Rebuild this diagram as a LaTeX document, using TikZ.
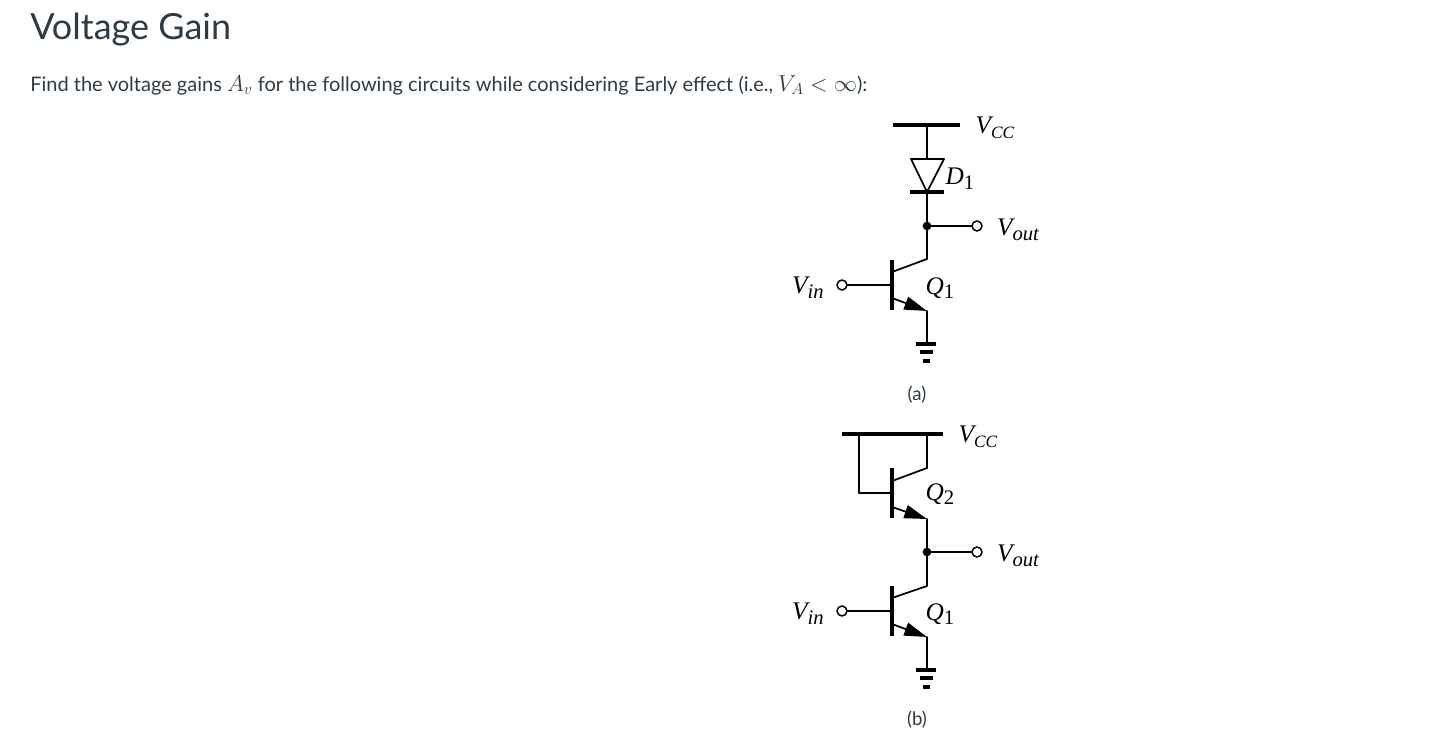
\documentclass[tikz,border=0pt]{standalone}
\usepackage{amsmath}
\usepackage{fontspec}
\setmainfont{Lato}
\newfontfamily\labelfont{Liberation Serif}
\usetikzlibrary{arrows.meta}
\definecolor{textGray}{HTML}{2D3B45}
\newcommand{\bigmath}[1]{{\fontsize{18.5}{20}\selectfont$#1$}}
\newcommand{\circuitlabel}[2]{#1\raisebox{-3.5pt}{\fontsize{15.5}{17}\selectfont #2}}
\newcommand{\railname}{{\fontsize{13}{15}\selectfont CC}}

\begin{document}
\begin{tikzpicture}
[x=0.75pt,y=-0.75pt,
  pinDecorate/.style={shape=circle,inner sep=0pt,minimum size=7.5pt,draw,line width=1.1pt,fill=white},%
  dotDecorate/.style={shape=circle,inner sep=0pt,minimum size=6.5pt,fill=black},%
  lineDecorate/.style={-,line width=1.3pt,line cap=round},%
  barDecorate/.style={-,line width=2.6pt},%
  emitterDecorate/.style={-{Triangle[length=17pt,width=10pt]},line width=1.3pt},%
  partLabel/.style={font=\labelfont\itshape\fontsize{19}{22}\selectfont,inner sep=0pt},%
  capLabel/.style={font=\fontsize{14}{17}\selectfont,text=textGray,inner sep=0pt}]
\useasboundingbox (0,0) rectangle (1436,745);
%% heading and question
\node (title) at (30,30) [anchor=west,inner sep=0pt,text=textGray,font=\fontsize{27}{32}\selectfont] {Voltage Gain};
\node (question) at (30,85) [anchor=west,inner sep=0pt,text=textGray,font=\fontsize{15}{18}\selectfont]
  {Find the voltage gains \bigmath{A_v} for the following circuits while considering Early effect (i.e., \bigmath{V_A<\infty}):};
%% wire points of circuit (a)
\foreach \nodename/\x/\y in {aVccL/893/125, aVccR/960/125, aVcc/927/125, aDioL/911/159, aDioR/944/159,
  aDioT/927/159, aDioK/927/192, aCatL/910/192, aCatR/944/192, aColl/927/259, aBarT/892/260, aBarB/892/310,
  aBase/892/285, aCollB/892/272, aEmitB/892/298, aEmit/927/311, aGnd/927/344, aGndL/916/344, aGndR/936/344,
  aGndML/920/352, aGndMR/933/352, aGndSL/923/361, aGndSR/930/361} {
  \coordinate (\nodename) at (\x,\y);
}
%% wire points of circuit (b)
\foreach \nodename/\x/\y in {bVccL/842/434, bVccR/943/434, bLoop/859/434, bLoopB/859/493, bBaseT/892/493,
  bVccC/927/434, bCollT/927/468, bBarTT/892/468, bBarTB/892/518, bCollTB/892/481, bEmitTB/892/507, bMid/927/519,
  bColl/927/586, bBarT/892/586, bBarB/892/636, bBase/892/611, bCollB/892/598, bEmitB/892/624, bEmit/927/637,
  bGnd/927/670, bGndL/916/670, bGndR/936/670, bGndML/920/678, bGndMR/933/678, bGndSL/923/687, bGndSR/930/687} {
  \coordinate (\nodename) at (\x,\y);
}
%% pins and junctions
\foreach \nodename/\x/\y in {aOut/977/226, aIn/842/285, bOut/977/552, bIn/842/611} {
  \node (\nodename) at (\x,\y) [pinDecorate] {};
}
\node (aDot) at (927,226) [dotDecorate] {};
\node (bDot) at (927,552) [dotDecorate] {};
%% thin wires
\path
\foreach \startnode/\endnode in {aVcc/aDioT, aDioL/aDioR, aDioR/aDioK, aDioK/aDioL, aDioK/aDot, aDot/aOut, aDot/aColl,
  aColl/aCollB, aIn/aBase, aEmit/aGnd, bLoop/bLoopB, bLoopB/bBaseT, bVccC/bCollT, bCollT/bCollTB, bMid/bDot, bDot/bOut,
  bDot/bColl, bColl/bCollB, bIn/bBase, bEmit/bGnd} {
  (\startnode) edge[lineDecorate] (\endnode)
};
%% thick bars
\path
\foreach \startnode/\endnode in {aVccL/aVccR, aCatL/aCatR, aBarT/aBarB, aGndL/aGndR, aGndML/aGndMR, aGndSL/aGndSR,
  bVccL/bVccR, bBarTT/bBarTB, bBarT/bBarB, bGndL/bGndR, bGndML/bGndMR, bGndSL/bGndSR} {
  (\startnode) edge[barDecorate] (\endnode)
};
%% emitters
\path
\foreach \startnode/\endnode in {aEmitB/aEmit, bEmitTB/bMid, bEmitB/bEmit} {
  (\startnode) edge[emitterDecorate] (\endnode)
};
%% labels
\foreach \nodename/\x/\y/\txt/\subtxt in {aVccLab/995/128/V/\railname, aDLab/960/179/D/\textup{1}, aOutLab/1018/230/V/out, aInLab/808/288/V/in,
  aQLab/940/288/Q/\textup{1}, bVccLab/978/437/V/\railname, bQtwoLab/940/494/Q/\textup{2}, bOutLab/1018/556/V/out, bInLab/808/614/V/in,
  bQLab/940/614/Q/\textup{1}} {
  \node (\nodename) at (\x,\y) [partLabel] {\circuitlabel{\txt}{\subtxt}};
}
\node (aCap) at (917,395) [capLabel] {(a)};
\node (bCap) at (917,720) [capLabel] {(b)};
\end{tikzpicture}
\end{document}
